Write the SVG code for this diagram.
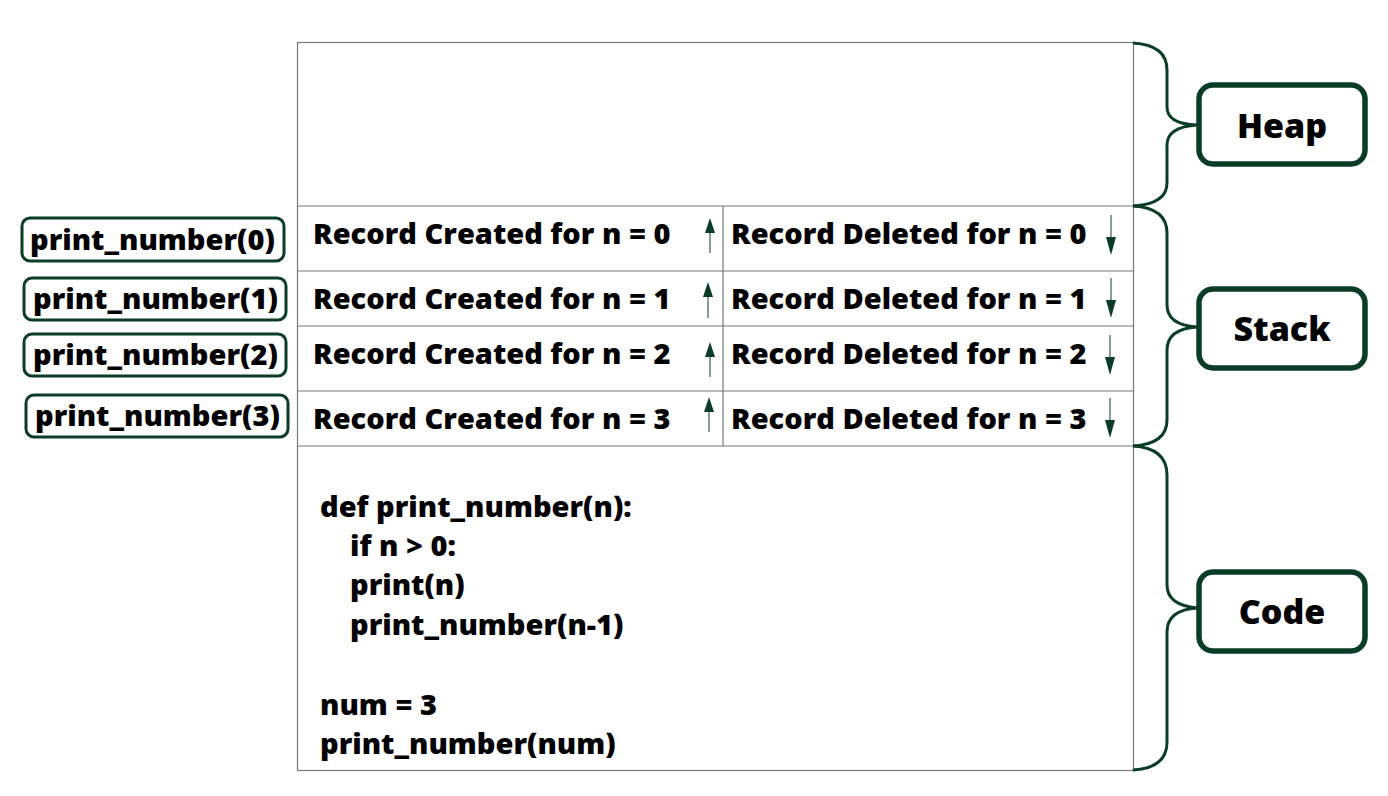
<svg xmlns="http://www.w3.org/2000/svg" width="1388" height="796" viewBox="0 0 1388 796">
<defs>
<style>
.t{font-family:"Open Sans","Noto Sans",sans-serif;font-weight:800;fill:#000}
.rec{font-size:29px}
.code{font-size:29px}
.lbl{font-size:29px}
.big{font-size:34px;text-anchor:middle}
.grid{stroke:#777;stroke-width:1.2;fill:none}
.sbox{fill:#fff;stroke:#0b3d26;stroke-width:3}
.bbox{fill:#fff;stroke:#0b3d26;stroke-width:5.5}
.brace{fill:none;stroke:#0b3d26;stroke-width:3}
.shaft{stroke:#3a5a48;stroke-width:1.2}
.head{fill:#0b3d26}
</style>
</defs>
<rect width="1388" height="796" fill="#fff"/>
<g id="memory">
<rect class="grid" x="297.5" y="42.5" width="836" height="728"/>
<line class="grid" x1="297" y1="206" x2="1133" y2="206"/>
<line class="grid" x1="297" y1="271" x2="1133" y2="271"/>
<line class="grid" x1="297" y1="326" x2="1133" y2="326"/>
<line class="grid" x1="297" y1="391" x2="1133" y2="391"/>
<line class="grid" x1="297" y1="446" x2="1133" y2="446"/>
<line class="grid" x1="723" y1="206" x2="723" y2="446"/>
</g>
<g id="records">
<text class="t rec" x="313" y="244">Record Created for n = 0</text>
<text class="t rec" x="313" y="309">Record Created for n = 1</text>
<text class="t rec" x="313" y="364">Record Created for n = 2</text>
<text class="t rec" x="313" y="429">Record Created for n = 3</text>
<text class="t rec" x="731" y="244">Record Deleted for n = 0</text>
<text class="t rec" x="731" y="309">Record Deleted for n = 1</text>
<text class="t rec" x="731" y="364">Record Deleted for n = 2</text>
<text class="t rec" x="731" y="429">Record Deleted for n = 3</text>
</g>
<g id="connectors">
<g id="up-arrows">
<line class="shaft" x1="710" y1="253" x2="710" y2="230"/><polygon class="head" points="710,218 705,233 715,233"/>
<line class="shaft" x1="708" y1="318" x2="708" y2="294"/><polygon class="head" points="708,282 703,297 713,297"/>
<line class="shaft" x1="710" y1="377" x2="710" y2="354"/><polygon class="head" points="710,342 705,357 715,357"/>
<line class="shaft" x1="709" y1="432" x2="709" y2="409"/><polygon class="head" points="709,397 704,412 714,412"/>
</g>
<g id="down-arrows">
<line class="shaft" x1="1111" y1="215" x2="1111" y2="240"/><polygon class="head" points="1111,255 1106,237 1116,237"/>
<line class="shaft" x1="1111" y1="278" x2="1111" y2="303"/><polygon class="head" points="1111,318 1106,300 1116,300"/>
<line class="shaft" x1="1110" y1="335" x2="1110" y2="360"/><polygon class="head" points="1110,375 1105,357 1115,357"/>
<line class="shaft" x1="1110" y1="398" x2="1110" y2="423"/><polygon class="head" points="1110,438 1105,420 1115,420"/>
</g>
<g id="braces">
<path class="brace" d="M1133,43 Q1167,45 1167,70 L1167,107 Q1167,124 1197,125 Q1167,127 1167,145 L1167,183 Q1167,204 1133,206"/>
<path class="brace" d="M1133,206 Q1167,208 1167,233 L1167,305 Q1167,325 1197,327 Q1167,329 1167,350 L1167,420 Q1167,444 1133,446"/>
<path class="brace" d="M1133,446 Q1167,448 1167,475 L1167,585 Q1167,605 1197,608 Q1167,610 1167,632 L1167,742 Q1167,768 1133,770"/>
</g>
</g>
<g id="code">
<text class="t code" x="320" y="517">def print_number(n):</text>
<text class="t code" x="350" y="556">if n &gt; 0:</text>
<text class="t code" x="350" y="595">print(n)</text>
<text class="t code" x="350" y="635">print_number(n-1)</text>
<text class="t code" x="320" y="715">num = 3</text>
<text class="t code" x="320" y="754">print_number(num)</text>
</g>
<g id="call0"><rect class="sbox" x="22" y="218" width="262" height="43" rx="8"/><text class="t lbl" x="30" y="250">print_number(0)</text></g>
<g id="call1"><rect class="sbox" x="24" y="278" width="262" height="42" rx="8"/><text class="t lbl" x="33" y="309">print_number(1)</text></g>
<g id="call2"><rect class="sbox" x="24" y="334" width="262" height="42" rx="8"/><text class="t lbl" x="33" y="365">print_number(2)</text></g>
<g id="call3"><rect class="sbox" x="26" y="395" width="262" height="42" rx="8"/><text class="t lbl" x="35" y="426">print_number(3)</text></g>
<g id="heap"><rect class="bbox" x="1199" y="85" width="166" height="79" rx="14"/><text class="t big" x="1282" y="138">Heap</text></g>
<g id="stack"><rect class="bbox" x="1199" y="289" width="166" height="79" rx="14"/><text class="t big" x="1282" y="341">Stack</text></g>
<g id="codelabel"><rect class="bbox" x="1199" y="572" width="166" height="79" rx="14"/><text class="t big" x="1282" y="624">Code</text></g>
</svg>
